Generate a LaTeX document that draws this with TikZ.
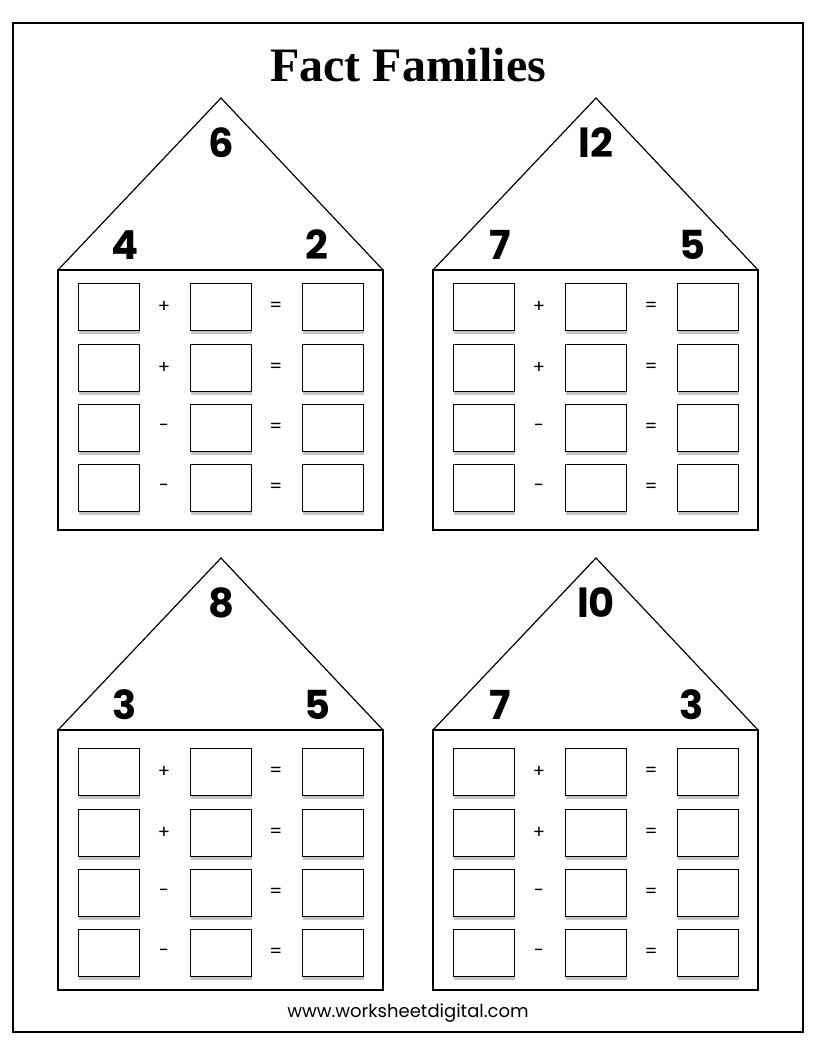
\documentclass[tikz,border=0pt]{standalone}
\usepackage{fontspec}
\setmainfont{Liberation Serif}
\newfontfamily\numfont{Poppins}
\usetikzlibrary{shadows}
\begin{document}
\begin{tikzpicture}[x=1pt,y=-1pt,
  ansbox/.style={draw,line width=1pt,fill=white,minimum width=61pt,minimum height=47pt,inner sep=0pt,
    drop shadow={shadow xshift=1pt,shadow yshift=-3pt,fill=black!45,opacity=0.5}},
  opsym/.style={font=\numfont\fontsize{18}{18}\selectfont},
  bignum/.style={font=\numfont\bfseries\fontsize{40}{40}\selectfont,inner sep=0pt},
  house/.style={line width=1.2pt}]
\path[use as bounding box] (0,0) rectangle (816,1056);
\draw[line width=1.5pt] (13,23) rectangle (803,1032);
\node[font=\bfseries\fontsize{48}{48}\selectfont] (title) at (408,65) {Fact Families};
\node[font=\numfont\fontsize{18}{18}\selectfont] (foot) at (408,1013) {www.worksheetdigital.com};
\foreach \hx/\hy/\by/\t/\l/\r/\id in {0/0/0/6/4/2/a, 375/0/0/l2/7/5/b, 0/460/465/8/3/5/c, 375/460/465/l0/7/3/d}{
  \begin{scope}[shift={(\hx,\hy)}]
    \draw[house] (58,270) -- (221,98) -- (383,270);
    \draw[house] (58,270) rectangle (383,530);
    \node[bignum] (top\id) at (221,143) {\t};
    \node[bignum] (left\id) at (125,245) {\l};
    \node[bignum] (right\id) at (317,245) {\r};
  \end{scope}
  \begin{scope}[shift={(\hx,\by)}]
    \foreach \y/\op [count=\k] in {307/+,368/+,428/-,488/-}{
      \node[ansbox] (p\id\k) at (108.5,\y) {};
      \node[ansbox] (q\id\k) at (220.5,\y) {};
      \node[ansbox] (s\id\k) at (332.5,\y) {};
      \node[opsym] (o\id\k) at (164,\y) {\op};
      \node[opsym] (e\id\k) at (276,\y) {=};
    }
  \end{scope}
}
\end{tikzpicture}
\end{document}
